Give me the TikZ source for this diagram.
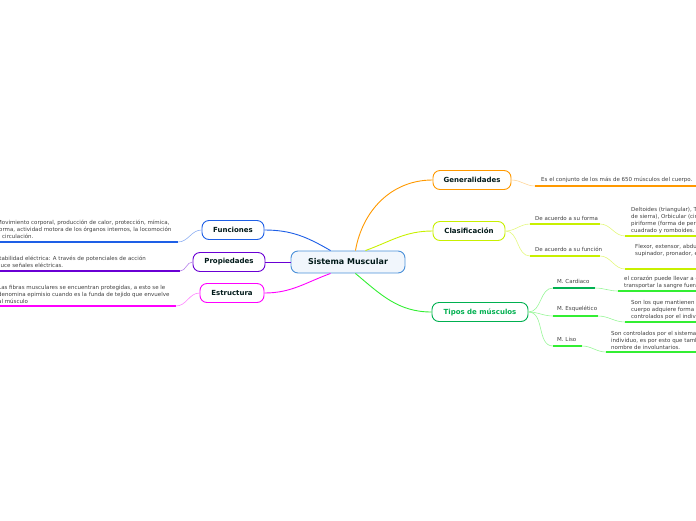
\documentclass[tikz,border=0pt]{standalone}
\usepackage{fontspec}
\setmainfont{DejaVu Sans}
\begin{document}
\begin{tikzpicture}[x=1pt,y=-1pt,
 topic/.style={draw=#1,line width=0.9pt,rounded corners=7pt,fill=white,minimum height=19pt,inner xsep=6pt,font=\fontsize{7}{8}\selectfont\bfseries,text=black!80!teal},
 leaf/.style={font=\fontsize{5.5}{7.2}\selectfont,text=black!75,align=left,anchor=south west,inner sep=0pt},
 ul/.style={draw=#1,line width=1.1pt},
 br/.style={draw=#1,line width=0.6pt}]
\useasboundingbox (0,0) rectangle (696,520);
\clip (0,0) rectangle (696,520);
\definecolor{cblue}{HTML}{4A90D9}\definecolor{corg}{HTML}{FF9900}\definecolor{cyg}{HTML}{C8F000}
\definecolor{cgr}{HTML}{00B050}\definecolor{clg}{HTML}{33EE33}\definecolor{cfb}{HTML}{1E5FE6}
\definecolor{cpu}{HTML}{6A00D4}\definecolor{cmg}{HTML}{FF00FF}
\node[topic=cblue,fill=cblue!8,minimum width=114pt,minimum height=22pt,font=\fontsize{8}{9}\selectfont\bfseries] (sm) at (348,262) {Sistema Muscular};
\node[topic=corg,minimum width=78pt] (gen) at (472,180) {Generalidades};
\node[topic=cyg,minimum width=72pt] (cla) at (469,231) {Clasificación};
\node[topic=cgr,minimum width=96pt,text=cgr] (tip) at (480,312) {Tipos de músculos};
\node[topic=cfb,minimum width=62pt] (fun) at (233,230) {Funciones};
\node[topic=cpu,minimum width=72pt] (pro) at (229,262) {Propiedades};
\node[topic=cmg,minimum width=64pt] (est) at (232,293) {Estructura};
\draw[br=corg,line width=0.9pt] (sm.north east)++(-50,0) to[out=80,in=180] (gen.west);
\draw[br=cyg,line width=0.9pt] (sm.north east)++(-40,0) to[out=20,in=180] (cla.west);
\draw[br=clg,line width=0.9pt] (sm.south east)++(-50,0) to[out=-40,in=180] (tip.west);
\draw[br=cfb,line width=0.9pt] (sm.north west)++(40,0) to[out=150,in=0] (fun.east);
\draw[br=cpu,line width=0.9pt] (sm.west) -- (pro.east);
\draw[br=cmg,line width=0.9pt] (sm.south west)++(40,0) to[out=200,in=0] (est.east);
% left leaves
\coordinate (f1) at (0,242);\coordinate (f2) at (178,242);
\draw[ul=cfb] (f1)--(f2); \draw[br=cfb!50] (f2) to[out=0,in=180] (fun.west);
\node[leaf] (ft) at (-3,240) {Movimiento corporal, producción de calor, protección, mímica,\\ forma, actividad motora de los órganos internos, la locomoción\\ y circulación.};
\coordinate (p1) at (0,271);\coordinate (p2) at (180,271);
\draw[ul=cpu] (p1)--(p2); \draw[br=cpu!50] (p2) to[out=0,in=180] (pro.west);
\node[leaf] (pt) at (-12,269) {Excitabilidad eléctrica: A través de potenciales de acción\\ produce señales eléctricas.};
\coordinate (e1) at (0,306);\coordinate (e2) at (176,306);
\draw[ul=cmg] (e1)--(e2); \draw[br=cmg!50] (e2) to[out=0,in=180] (est.west);
\node[leaf] (et) at (-2,304) {Las fibras musculares se encuentran protegidas, a esto se le\\ denomina epimisio cuando es la funda de tejido que envuelve\\ al músculo};
% generalidades
\coordinate (g1) at (535,186);\coordinate (g2) at (700,186);
\draw[br=corg!40] (gen.east) to[out=0,in=180] (g1); \draw[ul=corg] (g1)--(g2);
\node[leaf] (gt) at (541,183) {Es el conjunto de los más de 650 músculos del cuerpo.};
% clasificacion
\coordinate (c1) at (530,224);\coordinate (c2) at (600,224);
\coordinate (c3) at (530,256);\coordinate (c4) at (600,256);
\draw[br=cyg!50] (cla.east) to[out=0,in=180] (c1); \draw[br=cyg!50] (cla.east) to[out=0,in=180] (c3);
\draw[ul=cyg] (c1)--(c2); \draw[ul=cyg] (c3)--(c4);
\node[leaf] at (535,221) {De acuerdo a su forma};
\node[leaf] at (535,252) {De acuerdo a su función};
\coordinate (c5) at (625,236);\coordinate (c6) at (700,236);
\coordinate (c7) at (625,269);\coordinate (c8) at (700,269);
\draw[br=cyg!50] (c2) to[out=0,in=180] (c5); \draw[ul=cyg] (c5)--(c6);
\draw[br=cyg!50] (c4) to[out=0,in=180] (c7); \draw[ul=cyg] (c7)--(c8);
\node[leaf] at (631,234) {Deltoides (triangular), Trapecio (forma\\ de sierra), Orbicular (circular),\\ piriforme (forma de pera), cuadrado,\\ cuadrado y romboides.};
\node[leaf] at (635,257) {Flexor, extensor, abductor,\\ supinador, pronador, elevador.};
% tipos
\coordinate (t1) at (553,288);\coordinate (t2) at (595,288);
\coordinate (t3) at (553,316);\coordinate (t4) at (598,316);
\coordinate (t5) at (553,346);\coordinate (t6) at (582,346);
\foreach \a in {t1,t3,t5} \draw[br=clg!50] (tip.east) to[out=0,in=180] (\a);
\draw[ul=cgr] (t1)--(t2); \draw[ul=clg] (t3)--(t4); \draw[ul=clg] (t5)--(t6);
\node[leaf] at (557,284) {M. Cardiaco};
\node[leaf] at (557,312) {M. Esquelético};
\node[leaf] at (557,342) {M. Liso};
\coordinate (l1) at (618,291);\coordinate (l2) at (700,291);
\coordinate (l3) at (625,322);\coordinate (l4) at (700,322);
\coordinate (l5) at (606,352);\coordinate (l6) at (700,352);
\draw[br=clg!50] (t2) to[out=0,in=180] (l1); \draw[ul=clg] (l1)--(l2);
\draw[br=clg!50] (t4) to[out=0,in=180] (l3); \draw[ul=clg] (l3)--(l4);
\draw[br=clg!50] (t6) to[out=0,in=180] (l5); \draw[ul=clg] (l5)--(l6);
\node[leaf] at (624,289) {el corazón puede llevar a cabo su función de\\ transportar la sangre fuera del corazón.};
\node[leaf] at (631,320) {Son los que mantienen el esqueleto y el\\ cuerpo adquiere forma y son\\ controlados por el individuo.};
\node[leaf] at (611,350) {Son controlados por el sistema nervioso, no por el\\ individuo, es por esto que también reciben el\\ nombre de involuntarios.};
\end{tikzpicture}
\end{document}
